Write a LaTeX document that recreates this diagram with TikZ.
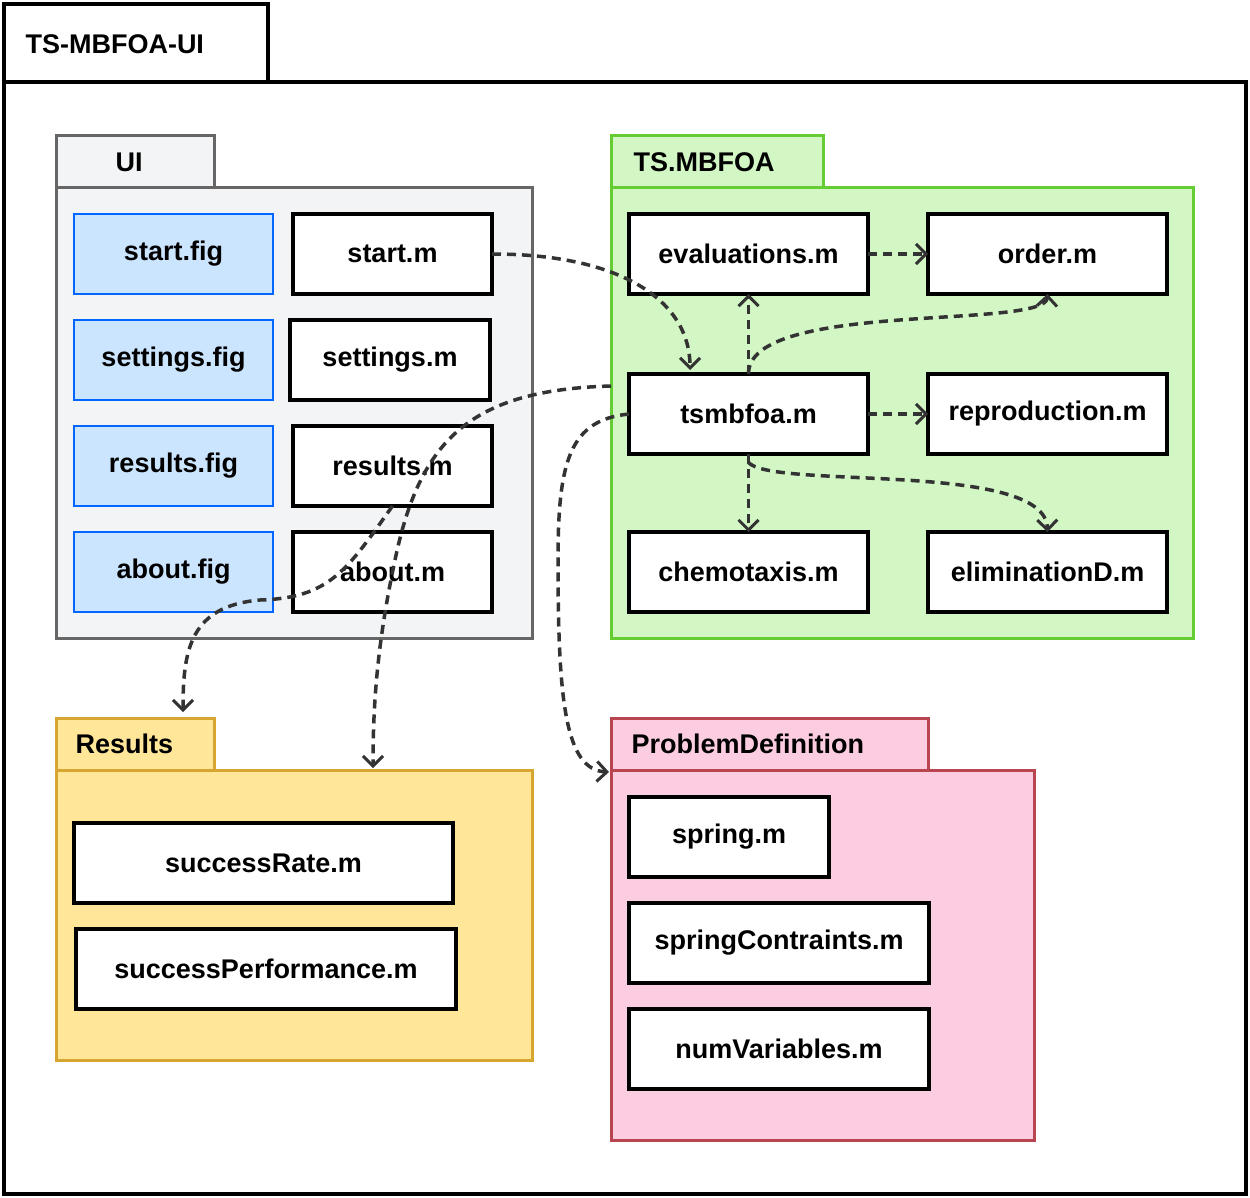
\documentclass[tikz,border=0pt]{standalone}
\usepackage{fontspec}
\setmainfont{Liberation Sans}
\usetikzlibrary{arrows.meta}
\begin{document}
\begin{tikzpicture}[x=1pt,y=-1pt,
 file/.style={draw=black,line width=3.5pt,fill=white},
 fig/.style={draw=blue!60!cyan,line width=2.5pt,fill=figc},
 lbl/.style={font=\bfseries\fontsize{27}{30}\selectfont},
 tlbl/.style={font=\bfseries\fontsize{27}{30}\selectfont,anchor=west},
 dep/.style={dashed,dash pattern=on 9pt off 6pt,line width=3.5pt,draw=black!80,-{Straight Barb[length=10pt,width=20pt,line width=3pt]}}]
\definecolor{figc}{HTML}{CCE5FF}
\useasboundingbox (0,0) rectangle (1250,1198);
% outer
\draw[line width=3.5pt] (4,4) rectangle (268,82);
\draw[line width=3.5pt] (4,82) rectangle (1246,1194);
\node[tlbl] (tt) at (22,44) {TS-MBFOA-UI};
% UI
\definecolor{uig}{HTML}{F2F4F5}
\draw[draw=black!60,fill=uig,line width=3pt] (56,136) rectangle (214,188);
\draw[draw=black!60,fill=uig,line width=3pt] (56,188) rectangle (532,638);
\node[tlbl] (uit) at (112,162) {UI};
% TS.MBFOA
\definecolor{grf}{HTML}{D2F7C4}\definecolor{grd}{HTML}{66CC33}
\draw[draw=grd,fill=grf,line width=3pt] (611,136) rectangle (823,188);
\draw[draw=grd,fill=grf,line width=3pt] (611,188) rectangle (1193,638);
\node[tlbl] (tst) at (630,162) {TS.MBFOA};
% Results
\definecolor{yf}{HTML}{FFE699}\definecolor{yd}{HTML}{D6A630}
\draw[draw=yd,fill=yf,line width=3pt] (56,718) rectangle (214,770);
\draw[draw=yd,fill=yf,line width=3pt] (56,770) rectangle (532,1060);
\node[tlbl] (rst) at (72,744) {Results};
% ProblemDefinition
\definecolor{pf}{HTML}{FCCDE0}\definecolor{pd}{HTML}{B8454F}
\draw[draw=pd,fill=pf,line width=3pt] (611,718) rectangle (928,770);
\draw[draw=pd,fill=pf,line width=3pt] (611,770) rectangle (1034,1140);
\node[tlbl] (pdt) at (628,744) {ProblemDefinition};
% files
\def\bx#1#2#3#4#5#6#7{\draw[#1] (#2,#3) rectangle (#4,#5); \node[lbl] (#6) at ({(#2+#4)/2},{(#3+#5)/2}) {#7};
 \coordinate (#6-n) at ({(#2+#4)/2},#3); \coordinate (#6-s) at ({(#2+#4)/2},#5);
 \coordinate (#6-w) at (#2,{(#3+#5)/2}); \coordinate (#6-e) at (#4,{(#3+#5)/2});}
\bx{fig}{74}{214}{273}{294}{sf}{start.fig}
\bx{file}{293}{214}{492}{294}{sm}{start.m}
\bx{fig}{74}{320}{273}{400}{gf}{settings.fig}
\bx{file}{290}{320}{490}{400}{gm}{settings.m}
\bx{fig}{74}{426}{273}{506}{rf}{results.fig}
\bx{file}{293}{426}{492}{506}{rm}{results.m}
\bx{fig}{74}{532}{273}{612}{af}{about.fig}
\bx{file}{293}{532}{492}{612}{am}{about.m}
\bx{file}{629}{214}{868}{294}{ev}{evaluations.m}
\bx{file}{928}{214}{1167}{294}{or}{order.m}
\bx{file}{629}{374}{868}{454}{ts}{tsmbfoa.m}
\bx{file}{928}{374}{1167}{454}{rp}{reproduction.m}
\bx{file}{629}{532}{868}{612}{ch}{chemotaxis.m}
\bx{file}{928}{532}{1167}{612}{el}{eliminationD.m}
\bx{file}{74}{823}{453}{903}{sr}{successRate.m}
\bx{file}{76}{929}{456}{1009}{sp}{successPerformance.m}
\bx{file}{629}{797}{829}{877}{spr}{spring.m}
\bx{file}{629}{903}{929}{983}{spc}{springContraints.m}
\bx{file}{629}{1009}{929}{1089}{nv}{numVariables.m}
\coordinate (rtab) at (373,768);
\coordinate (rtab2) at (183,712);
\coordinate (pdl) at (609,772);
% connectors
\draw[dep] (sm-e) .. controls (620,254) and (690,300) .. (690,370);
\draw[dep] (ev-e) -- (or-w);
\draw[dep] (ts-n) -- (ev-s);
\draw[dep] (ts-n) .. controls (748,300) and (1046,330) .. (or-s);
\draw[dep] (ts-e) -- (rp-w);
\draw[dep] (ts-s) -- (ch-n);
\draw[dep] (748,462) .. controls (770,490) and (1046,460) .. (el-n);
\draw[dep] (611,386) .. controls (470,390) and (420,440) .. (395,560) .. controls (378,640) and (373,700) .. (rtab);
\draw[dep] (rm-s) .. controls (347,570) and (330,598) .. (260,600) .. controls (190,606) and (183,650) .. (rtab2);
\draw[dep] (ts-w) .. controls (570,420) and (558,460) .. (558,560) .. controls (558,700) and (565,770) .. (pdl);
\end{tikzpicture}
\end{document}
